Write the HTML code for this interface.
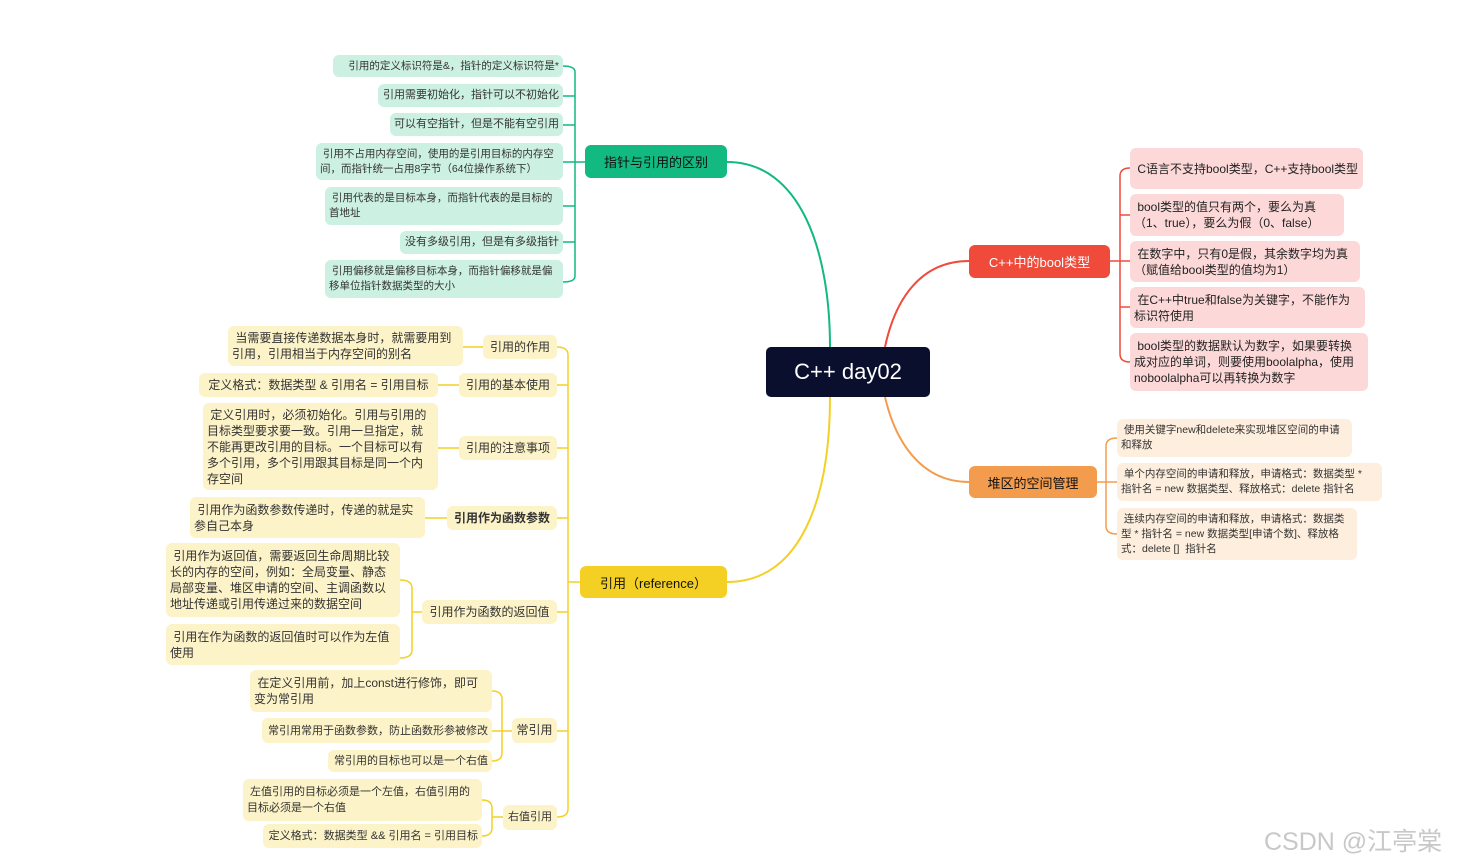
<!DOCTYPE html>
<html><head><meta charset="utf-8"><style>
body{margin:0;width:1459px;height:865px;background:#fff;position:relative;overflow:hidden;font-family:"Liberation Sans","Noto Sans CJK SC",sans-serif;}
.n{position:absolute;box-sizing:border-box;border-radius:6px;font-size:11px;line-height:15px;padding:0 4px;color:#333;display:flex;align-items:center}
.n span{display:block;width:100%}
.w{white-space:nowrap;justify-content:flex-end}
.g{background:#ccf0e2}
.r{background:#fdd8d8;color:#222;font-size:12px;line-height:16px}
.o{background:#fdeedd;font-size:10.5px}
.y{background:#fdf3c8;font-size:12px;line-height:16px}
.s{background:#fdf3c8;font-size:12px;justify-content:center;white-space:nowrap}
.m{position:absolute;box-sizing:border-box;border-radius:6px;font-size:13px;display:flex;align-items:center;justify-content:center}
svg{position:absolute;left:0;top:0}
</style></head><body>
<svg width="1459" height="865" fill="none" stroke-width="2">
<path d="M830 347 C830 250 800 162 727 162" stroke="#12b981"/>
<path d="M885 347 C895 300 920 261 969 261" stroke="#f04a3a"/>
<path d="M885 397 C895 440 920 482 969 482" stroke="#f49c4e"/>
<path d="M830 397 C830 500 800 582 727 582" stroke="#f4d024"/>
<g stroke="#12b981" stroke-width="1.5">
<path d="M585 162 H575"/><path d="M575 72 V276"/>
<path d="M563 66 Q575 66 575 72"/><path d="M563 96 H575"/><path d="M563 125 H575"/><path d="M563 162 H575"/><path d="M563 206 H575"/><path d="M563 242 H575"/><path d="M563 282 Q575 282 575 276"/>
</g>
<g stroke="#f04a3a" stroke-width="1.5">
<path d="M969 261 H1120"/><path d="M1120 176 V354"/>
<path d="M1130 168 Q1120 168 1120 176"/><path d="M1120 215 H1130"/><path d="M1120 261 H1130"/><path d="M1120 307 H1130"/><path d="M1130 362 Q1120 362 1120 354"/>
</g>
<g stroke="#f49c4e" stroke-width="1.5">
<path d="M1097 482 H1106"/><path d="M1106 446 V526"/>
<path d="M1117 438 Q1106 438 1106 446"/><path d="M1106 482 H1117"/><path d="M1117 534 Q1106 534 1106 526"/>
</g>
<g stroke="#f4d024" stroke-width="1.5">
<path d="M580 582 H568"/><path d="M568 355 V809"/>
<path d="M557 347 Q568 347 568 355"/><path d="M557 385 H568"/><path d="M557 448 H568"/><path d="M557 518 H568"/><path d="M557 612 H568"/><path d="M557 731 H568"/><path d="M557 817 Q568 817 568 809"/>
<path d="M463 347 H483"/><path d="M438 385 H459"/><path d="M438 448 H459"/><path d="M425 518 H447"/>
<path d="M422 612 H412"/><path d="M412 588 V650"/><path d="M400 580 Q412 580 412 588"/><path d="M400 658 Q412 658 412 650"/>
<path d="M512 731 H502"/><path d="M502 699 V753"/><path d="M492 691 Q502 691 502 699"/><path d="M492 731 H502"/><path d="M492 761 Q502 761 502 753"/>
<path d="M503 817 H492"/><path d="M492 808 V828"/><path d="M482 800 Q492 800 492 808"/><path d="M482 836 Q492 836 492 828"/>
</g>
</svg>
<div class="m" style="left:766px;top:347px;width:164px;height:50px;background:#0a0f2e;color:#fff;font-size:22px;border-radius:5px">C++ day02</div>
<div class="m" style="left:585px;top:145px;width:142px;height:33px;background:#12b981;color:#111">指针与引用的区别</div>
<div class="m" style="left:969px;top:245px;width:141px;height:33px;background:#f04a3a;color:#fff">C++中的bool类型</div>
<div class="m" style="left:969px;top:466px;width:128px;height:32px;background:#f49c4e;color:#111">堆区的空间管理</div>
<div class="m" style="left:580px;top:566px;width:147px;height:32px;background:#f4d024;color:#111">引用（reference）</div>

<div class="n g w" style="left:333px;top:55px;width:230px;height:22px;font-size:10.5px">引用的定义标识符是&amp;，指针的定义标识符是*</div>
<div class="n g w" style="left:378px;top:84px;width:185px;height:23px">引用需要初始化，指针可以不初始化</div>
<div class="n g w" style="left:390px;top:113px;width:173px;height:23px">可以有空指针，但是不能有空引用</div>
<div class="n g" style="left:316px;top:143px;width:247px;height:37px;font-size:10.5px"><span>&nbsp;引用不占用内存空间，使用的是引用目标的内存空间，而指针统一占用8字节（64位操作系统下）</span></div>
<div class="n g" style="left:325px;top:187px;width:238px;height:38px;font-size:10.5px"><span>&nbsp;引用代表的是目标本身，而指针代表的是目标的首地址</span></div>
<div class="n g w" style="left:400px;top:231px;width:163px;height:23px">没有多级引用，但是有多级指针</div>
<div class="n g" style="left:325px;top:260px;width:238px;height:38px;font-size:10.5px"><span>&nbsp;引用偏移就是偏移目标本身，而指针偏移就是偏移单位指针数据类型的大小</span></div>

<div class="n r" style="left:1130px;top:148px;width:233px;height:41px"><span>&nbsp;C语言不支持bool类型，C++支持bool类型</span></div>
<div class="n r" style="left:1130px;top:194px;width:214px;height:42px"><span>&nbsp;bool类型的值只有两个，要么为真<br>（1、true），要么为假（0、false）</span></div>
<div class="n r" style="left:1130px;top:241px;width:230px;height:41px"><span>&nbsp;在数字中，只有0是假，其余数字均为真<br>（赋值给bool类型的值均为1）</span></div>
<div class="n r" style="left:1130px;top:287px;width:235px;height:41px"><span>&nbsp;在C++中true和false为关键字，不能作为标识符使用</span></div>
<div class="n r" style="left:1130px;top:333px;width:238px;height:58px"><span>&nbsp;bool类型的数据默认为数字，如果要转换成对应的单词，则要使用boolalpha，使用noboolalpha可以再转换为数字</span></div>

<div class="n o" style="left:1117px;top:419px;width:235px;height:38px"><span>&nbsp;使用关键字new和delete来实现堆区空间的申请和释放</span></div>
<div class="n o" style="left:1117px;top:463px;width:265px;height:38px"><span>&nbsp;单个内存空间的申请和释放，申请格式：数据类型 *<br>指针名 = new 数据类型、释放格式：delete 指针名</span></div>
<div class="n o" style="left:1117px;top:508px;width:240px;height:52px"><span>&nbsp;连续内存空间的申请和释放，申请格式：数据类型 * 指针名 = new 数据类型[申请个数]、释放格式：delete []&nbsp; 指针名</span></div>

<div class="n s" style="left:483px;top:335px;width:74px;height:24px">引用的作用</div>
<div class="n s" style="left:459px;top:373px;width:98px;height:24px">引用的基本使用</div>
<div class="n s" style="left:459px;top:436px;width:98px;height:24px">引用的注意事项</div>
<div class="n s" style="left:447px;top:506px;width:110px;height:24px;font-weight:bold">引用作为函数参数</div>
<div class="n s" style="left:422px;top:600px;width:135px;height:24px">引用作为函数的返回值</div>
<div class="n s" style="left:512px;top:718px;width:45px;height:25px">常引用</div>
<div class="n s" style="left:503px;top:805px;width:54px;height:25px;font-size:11px">右值引用</div>

<div class="n y" style="left:228px;top:326px;width:235px;height:40px"><span>&nbsp;当需要直接传递数据本身时，就需要用到引用，引用相当于内存空间的别名</span></div>
<div class="n y w" style="left:199px;top:373px;width:239px;height:24px;justify-content:center">定义格式：数据类型 &amp; 引用名 = 引用目标</div>
<div class="n y" style="left:203px;top:403px;width:235px;height:87px"><span>&nbsp;定义引用时，必须初始化。引用与引用的目标类型要求要一致。引用一旦指定，就不能再更改引用的目标。一个目标可以有多个引用，多个引用跟其目标是同一个内存空间</span></div>
<div class="n y" style="left:190px;top:497px;width:235px;height:41px"><span>&nbsp;引用作为函数参数传递时，传递的就是实参自己本身</span></div>
<div class="n y" style="left:166px;top:543px;width:234px;height:74px"><span>&nbsp;引用作为返回值，需要返回生命周期比较长的内存的空间，例如：全局变量、静态局部变量、堆区申请的空间、主调函数以地址传递或引用传递过来的数据空间</span></div>
<div class="n y" style="left:166px;top:624px;width:234px;height:41px"><span>&nbsp;引用在作为函数的返回值时可以作为左值使用</span></div>
<div class="n y" style="left:250px;top:670px;width:242px;height:42px"><span>&nbsp;在定义引用前，加上const进行修饰，即可变为常引用</span></div>
<div class="n y w" style="left:262px;top:718px;width:230px;height:25px;font-size:11px">常引用常用于函数参数，防止函数形参被修改</div>
<div class="n y w" style="left:328px;top:750px;width:164px;height:22px;font-size:11px">常引用的目标也可以是一个右值</div>
<div class="n y" style="left:243px;top:779px;width:239px;height:42px;font-size:11px"><span>&nbsp;左值引用的目标必须是一个左值，右值引用的目标必须是一个右值</span></div>
<div class="n y w" style="left:263px;top:824px;width:219px;height:24px;font-size:11px">定义格式：数据类型 &amp;&amp; 引用名 = 引用目标</div>

<div style="position:absolute;left:1264px;top:822px;font-size:25px;color:#c8c8c8">CSDN @江亭棠</div>
</body></html>
